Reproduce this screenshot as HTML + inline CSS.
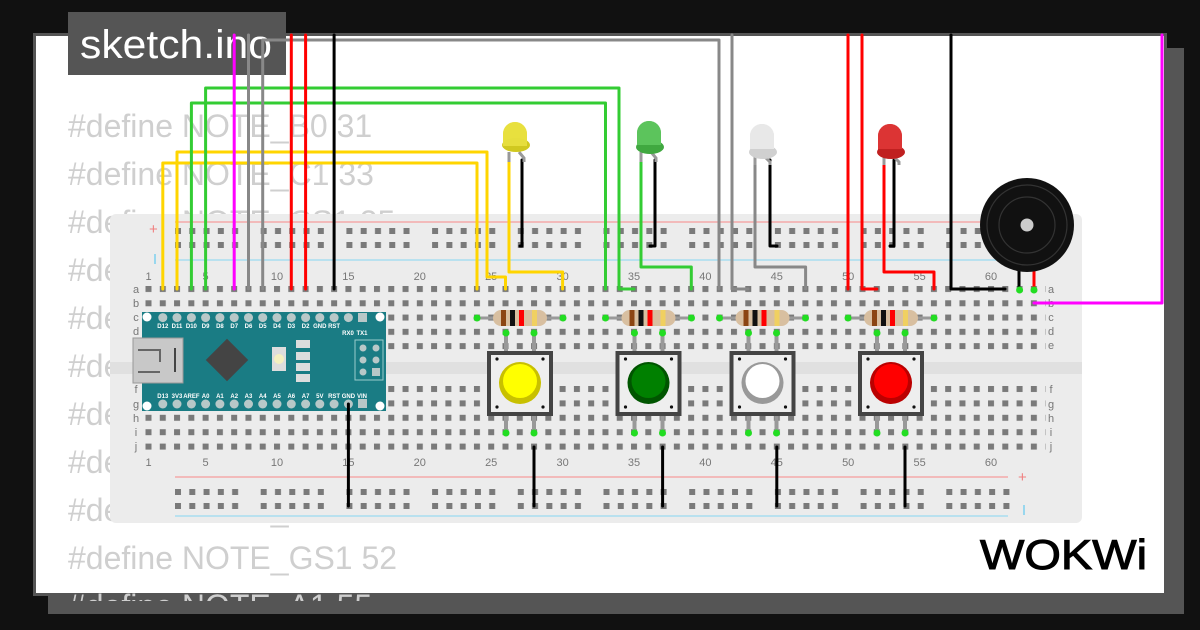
<!DOCTYPE html>
<html><head><meta charset="utf-8"><style>
html,body{margin:0;padding:0;background:#111;}
svg{display:block}
</style></head><body>
<svg width="1200" height="630" viewBox="0 0 1200 630" xmlns="http://www.w3.org/2000/svg" font-family="Liberation Sans, sans-serif">
<defs>
<clipPath id="cp"><rect x="36" y="36" width="1140" height="565"/></clipPath>
<pattern id="holes" x="145.5" y="286" width="14.28" height="14.28" patternUnits="userSpaceOnUse"><rect width="6" height="6" fill="#7a7a7a"/></pattern>
<pattern id="holes2" x="145.5" y="386" width="14.28" height="14.4" patternUnits="userSpaceOnUse"><rect width="6" height="6" fill="#7a7a7a"/></pattern>
<pattern id="rail" x="175" y="228" width="85.7" height="14" patternUnits="userSpaceOnUse">
<rect x="0" width="6" height="6" fill="#7a7a7a"/><rect x="14.28" width="6" height="6" fill="#7a7a7a"/><rect x="28.56" width="6" height="6" fill="#7a7a7a"/><rect x="42.84" width="6" height="6" fill="#7a7a7a"/><rect x="57.12" width="6" height="6" fill="#7a7a7a"/></pattern>
<pattern id="rail2" x="175" y="489" width="85.7" height="14" patternUnits="userSpaceOnUse">
<rect x="0" width="6" height="6" fill="#7a7a7a"/><rect x="14.28" width="6" height="6" fill="#7a7a7a"/><rect x="28.56" width="6" height="6" fill="#7a7a7a"/><rect x="42.84" width="6" height="6" fill="#7a7a7a"/><rect x="57.12" width="6" height="6" fill="#7a7a7a"/></pattern>
<g id="res">
<line x1="-43" y1="0" x2="43" y2="0" stroke="#999" stroke-width="3"/>
<rect x="-27" y="-8" width="54" height="16" rx="8" fill="#d8bfa0"/>
<rect x="-19" y="-8" width="5" height="16" fill="#8b4513"/>
<rect x="-10" y="-8" width="5" height="16" fill="#111"/>
<rect x="-1" y="-8" width="5" height="16" fill="#f00"/>
<rect x="12" y="-8" width="5" height="16" fill="#f0d060"/>
<circle cx="-43" cy="0" r="3.5" fill="#22dd22"/><circle cx="43" cy="0" r="3.5" fill="#22dd22"/>
</g>
</defs>
<rect x="48" y="48" width="1136" height="566" fill="#555"/>
<rect x="34.5" y="34.5" width="1131" height="560" fill="#fff" stroke="#555" stroke-width="3"/>
<rect x="68" y="12" width="218" height="63" fill="#555"/>
<text x="80" y="58" fill="#fff" font-size="40" textLength="192" lengthAdjust="spacingAndGlyphs">sketch.ino</text>
<g fill="#cfcfcf" font-size="32" clip-path="url(#cp)">
<text x="68" y="137">#define NOTE_B0 31</text>
<text x="68" y="185">#define NOTE_C1 33</text>
<text x="68" y="233">#define NOTE_CS1 35</text>
<text x="68" y="281">#define NOTE_D1 37</text>
<text x="68" y="329">#define NOTE_DS1 39</text>
<text x="68" y="377">#define NOTE_E1 41</text>
<text x="68" y="425">#define NOTE_F1 44</text>
<text x="68" y="473">#define NOTE_FS1 46</text>
<text x="68" y="521">#define NOTE_G1 49</text>
<text x="68" y="569">#define NOTE_GS1 52</text>
<text x="68" y="617">#define NOTE_A1 55</text>
</g>
<!-- breadboard -->
<rect x="110" y="214" width="972" height="309" rx="6" fill="#ececec"/>
<rect x="110" y="362" width="972" height="12" fill="#e0e0e0"/>
<line x1="175" y1="222" x2="1008" y2="222" stroke="#f4aaaa" stroke-width="1.5"/>
<line x1="175" y1="260" x2="1008" y2="260" stroke="#a8ddf0" stroke-width="1.5"/>
<line x1="175" y1="477" x2="1008" y2="477" stroke="#f4aaaa" stroke-width="1.5"/>
<line x1="175" y1="516" x2="1008" y2="516" stroke="#a8ddf0" stroke-width="1.5"/>
<g fill="#f08080" font-size="15"><text x="149" y="234">+</text><text x="1018" y="482">+</text></g>
<g stroke="#7cd0ee" stroke-width="1.5"><line x1="155" y1="254" x2="155" y2="264"/><line x1="1024" y1="505" x2="1024" y2="515"/></g>
<rect x="175" y="228" width="838" height="24" fill="url(#rail)"/>
<rect x="175" y="489" width="838" height="24" fill="url(#rail2)"/>
<rect x="145.5" y="286" width="900" height="66" fill="url(#holes)"/>
<rect x="145.5" y="386" width="900" height="66" fill="url(#holes2)"/>
<g fill="#777" font-size="11" text-anchor="middle">
<text x="148.5" y="280">1</text><text x="205.6" y="280">5</text><text x="277" y="280">10</text><text x="348.4" y="280">15</text><text x="419.8" y="280">20</text><text x="491.2" y="280">25</text><text x="562.6" y="280">30</text><text x="634" y="280">35</text><text x="705.4" y="280">40</text><text x="776.8" y="280">45</text><text x="848.2" y="280">50</text><text x="919.6" y="280">55</text><text x="991" y="280">60</text>
<text x="148.5" y="466">1</text><text x="205.6" y="466">5</text><text x="277" y="466">10</text><text x="348.4" y="466">15</text><text x="419.8" y="466">20</text><text x="491.2" y="466">25</text><text x="562.6" y="466">30</text><text x="634" y="466">35</text><text x="705.4" y="466">40</text><text x="776.8" y="466">45</text><text x="848.2" y="466">50</text><text x="919.6" y="466">55</text><text x="991" y="466">60</text>
</g>
<g fill="#777" font-size="11" text-anchor="middle">
<text x="136" y="293">a</text><text x="136" y="307">b</text><text x="136" y="321">c</text><text x="136" y="335">d</text><text x="136" y="349">e</text>
<text x="136" y="393">f</text><text x="136" y="408">g</text><text x="136" y="422">h</text><text x="136" y="436">i</text><text x="136" y="450">j</text>
<text x="1051" y="293">a</text><text x="1051" y="307">b</text><text x="1051" y="321">c</text><text x="1051" y="335">d</text><text x="1051" y="349">e</text>
<text x="1051" y="393">f</text><text x="1051" y="408">g</text><text x="1051" y="422">h</text><text x="1051" y="436">i</text><text x="1051" y="450">j</text>
</g>
<!-- arduino -->
<rect x="142" y="312" width="244" height="99" fill="#1a7c84"/>
<g fill="#fff"><circle cx="147" cy="317" r="4.5"/><circle cx="380" cy="317" r="4.5"/><circle cx="147" cy="406" r="4.5"/><circle cx="380" cy="406" r="4.5"/></g>
<g fill="#b8c8c8">
<circle cx="162.8" cy="317.6" r="4.5"/><circle cx="177" cy="317.6" r="4.5"/><circle cx="191.4" cy="317.6" r="4.5"/><circle cx="205.6" cy="317.6" r="4.5"/><circle cx="219.9" cy="317.6" r="4.5"/><circle cx="234.2" cy="317.6" r="4.5"/><circle cx="248.5" cy="317.6" r="4.5"/><circle cx="262.7" cy="317.6" r="4.5"/><circle cx="277" cy="317.6" r="4.5"/><circle cx="291.3" cy="317.6" r="4.5"/><circle cx="305.6" cy="317.6" r="4.5"/><circle cx="319.8" cy="317.6" r="4.5"/><circle cx="334.1" cy="317.6" r="4.5"/><circle cx="348.4" cy="317.6" r="4.5"/>
<circle cx="162.8" cy="404" r="4.5"/><circle cx="177" cy="404" r="4.5"/><circle cx="191.4" cy="404" r="4.5"/><circle cx="205.6" cy="404" r="4.5"/><circle cx="219.9" cy="404" r="4.5"/><circle cx="234.2" cy="404" r="4.5"/><circle cx="248.5" cy="404" r="4.5"/><circle cx="262.7" cy="404" r="4.5"/><circle cx="277" cy="404" r="4.5"/><circle cx="291.3" cy="404" r="4.5"/><circle cx="305.6" cy="404" r="4.5"/><circle cx="319.8" cy="404" r="4.5"/><circle cx="334.1" cy="404" r="4.5"/><circle cx="348.4" cy="404" r="4.5"/>
<rect x="358" y="313" width="9" height="9"/><rect x="358" y="399" width="9" height="9"/>
</g>
<g fill="#fff" font-size="6" text-anchor="middle" font-weight="bold">
<text x="162.8" y="328">D12</text><text x="177" y="328">D11</text><text x="191.4" y="328">D10</text><text x="205.6" y="328">D9</text><text x="219.9" y="328">D8</text><text x="234.2" y="328">D7</text><text x="248.5" y="328">D6</text><text x="262.7" y="328">D5</text><text x="277" y="328">D4</text><text x="291.3" y="328">D3</text><text x="305.6" y="328">D2</text><text x="319.8" y="328">GND</text><text x="334.1" y="328">RST</text><text x="348" y="335">RX0</text><text x="362" y="335">TX1</text>
<text x="162.8" y="398">D13</text><text x="177" y="398">3V3</text><text x="191.4" y="398">AREF</text><text x="205.6" y="398">A0</text><text x="219.9" y="398">A1</text><text x="234.2" y="398">A2</text><text x="248.5" y="398">A3</text><text x="262.7" y="398">A4</text><text x="277" y="398">A5</text><text x="291.3" y="398">A6</text><text x="305.6" y="398">A7</text><text x="319.8" y="398">5V</text><text x="334.1" y="398">RST</text><text x="348.4" y="398">GND</text><text x="362" y="398">VIN</text>
</g>
<rect x="355" y="340" width="28" height="40" fill="none" stroke="#9cc" stroke-width="1"/>
<g fill="#b8c8c8"><circle cx="363" cy="348" r="3.5"/><circle cx="376" cy="348" r="3.5"/><circle cx="363" cy="360" r="3.5"/><circle cx="376" cy="360" r="3.5"/><circle cx="363" cy="372" r="3.5"/><rect x="372" y="368" width="8" height="8"/></g>
<rect x="133" y="338" width="50" height="45" fill="#c8c8c8" stroke="#999"/>
<path d="M138 350 H160 V362 M138 372 H160" stroke="#666" stroke-width="2" fill="none"/>
<line x1="175" y1="348" x2="175" y2="372" stroke="#444" stroke-width="2"/>
<rect x="212" y="345" width="30" height="30" fill="#444" transform="rotate(45 227 360)"/>
<rect x="272" y="347" width="14" height="24" fill="#ddd"/><circle cx="279" cy="359" r="5" fill="#f4f0c0"/>
<g fill="#ddd"><rect x="296" y="340" width="14" height="8"/><rect x="296" y="352" width="14" height="8"/><rect x="296" y="363" width="14" height="8"/><rect x="296" y="374" width="14" height="8"/></g>
<!-- wires -->
<g fill="none" stroke-width="3" stroke-linejoin="round" stroke-linecap="round">
<path d="M162.8 289 V163 H477 V289" stroke="#ffd500"/>
<path d="M177 289 V152 H487 V277 H505.5 V289" stroke="#ffd500"/>
<path d="M509 160 V272 H562.6 V289" stroke="#ffd500"/>
<path d="M191.4 289 V103 H605.5 V289" stroke="#33cc33"/>
<path d="M205.6 289 V88 H619 V289 H634" stroke="#33cc33"/>
<path d="M641 160 V267 H691.3 V289" stroke="#33cc33"/>
<path d="M234.2 289 V35" stroke="#ff00ff"/>
<path d="M1162 35 V303 H1034" stroke="#ff00ff"/>
<path d="M248.5 289 V35" stroke="#888"/>
<path d="M262.7 289 V40 H719 V289" stroke="#888"/>
<path d="M732 35 V289 H748" stroke="#888"/>
<path d="M755 160 V267 H805.6 V289" stroke="#888"/>
<path d="M291.3 289 V35 M305.6 289 V35 M848 35 V289" stroke="#f00"/>
<path d="M862 35 V289 H876.8" stroke="#f00"/>
<path d="M884 160 V272 H934 V289" stroke="#f00"/>
<path d="M334.1 289 V35" stroke="#000"/>
<path d="M951 35 V289 H1005" stroke="#000"/>
<path d="M522 160 V246 H520 M655 160 V246 H650 M770 160 V246 H777 M894 160 V246 H890" stroke="#000"/>
<path d="M534 447 V506 M662.6 447 V506 M776.8 447 V506 M905 447 V506 M348.4 404 V506" stroke="#000"/>
</g>
<!-- resistors -->
<use href="#res" x="520" y="318"/>
<use href="#res" x="648.5" y="318"/>
<use href="#res" x="762.5" y="318"/>
<use href="#res" x="891" y="318"/>
<!-- buttons -->
<g id="btn">
<g stroke="#999" stroke-width="4"><line x1="506" y1="333" x2="506" y2="352"/><line x1="534" y1="333" x2="534" y2="352"/><line x1="506" y1="414" x2="506" y2="433"/><line x1="534" y1="414" x2="534" y2="433"/></g>
<rect x="489" y="353" width="62" height="61" fill="#eee" stroke="#444" stroke-width="4"/>
<g fill="#111"><circle cx="497" cy="359" r="1.6"/><circle cx="543" cy="359" r="1.6"/><circle cx="497" cy="407" r="1.6"/><circle cx="543" cy="407" r="1.6"/></g>
<g fill="#22dd22"><circle cx="506" cy="333" r="3.5"/><circle cx="534" cy="333" r="3.5"/><circle cx="506" cy="433" r="3.5"/><circle cx="534" cy="433" r="3.5"/></g>
</g>
<circle cx="520" cy="383" r="21" fill="#c8c000"/><circle cx="520" cy="381" r="17" fill="#ff0"/>
<use href="#btn" x="128.5"/><circle cx="648.5" cy="383" r="21" fill="#005500"/><circle cx="648.5" cy="381" r="17" fill="#008000"/>
<use href="#btn" x="242.5"/><circle cx="762.5" cy="383" r="21" fill="#999"/><circle cx="762.5" cy="381" r="17" fill="#fff"/>
<use href="#btn" x="371"/><circle cx="891" cy="383" r="21" fill="#b00"/><circle cx="891" cy="381" r="17" fill="#f00"/>
<!-- LEDs -->
<g stroke="#999" stroke-width="3" fill="none">
<path d="M509 152 V162 M519 152 L524 158 V162"/><path d="M641 152 V162 M651 152 L656 158 V162"/><path d="M755 157 V165 M765 157 L770 162 V165"/><path d="M884 157 V165 M894 157 L899 162 V165"/>
</g>
<path d="M503 142 V134 A12 12 0 0 1 527 134 V142 Z" fill="#e4dc30"/><ellipse cx="516" cy="145" rx="14" ry="7" fill="#d0c820"/><path d="M503 146 V134 A12 12 0 0 1 527 134 V146 Z" fill="#e8e040" opacity=".9"/>
<path d="M637 146 V133 A12 12 0 0 1 661 133 V146 Z" fill="#58c058"/><ellipse cx="650" cy="147" rx="14" ry="7" fill="#40a840"/><path d="M637 145 V133 A12 12 0 0 1 661 133 V145 Z" fill="#5cc45c"/>
<path d="M750 150 V136 A12 12 0 0 1 774 136 V150 Z" fill="#e0e0e0"/><ellipse cx="763" cy="152" rx="14" ry="7" fill="#d0d0d0"/><path d="M750 149 V136 A12 12 0 0 1 774 136 V149 Z" fill="#e8e8e8"/>
<path d="M878 150 V136 A12 12 0 0 1 902 136 V150 Z" fill="#d83030"/><ellipse cx="891" cy="152" rx="14" ry="7" fill="#c02020"/><path d="M878 149 V136 A12 12 0 0 1 902 136 V149 Z" fill="#dc3434"/>
<!-- buzzer -->
<g stroke-width="3"><line x1="1019" y1="265" x2="1019" y2="289" stroke="#000"/><line x1="1034" y1="265" x2="1034" y2="289" stroke="#f00"/></g>
<circle cx="1027" cy="225" r="47" fill="#111"/>
<circle cx="1027" cy="225" r="40" fill="none" stroke="#333" stroke-width="1.2"/>
<circle cx="1027" cy="225" r="28" fill="none" stroke="#333" stroke-width="1.2"/>
<circle cx="1027" cy="225" r="6.5" fill="#ccc"/>
<g fill="#22dd22"><circle cx="1019.6" cy="290" r="3.5"/><circle cx="1034" cy="290" r="3.5"/></g>
<!-- logo -->
<text x="980" y="569" font-size="42" fill="#000" stroke="#000" stroke-width="1" textLength="167" lengthAdjust="spacingAndGlyphs" font-family="Liberation Sans, sans-serif">WOKWi</text>
</svg>
</body></html>
